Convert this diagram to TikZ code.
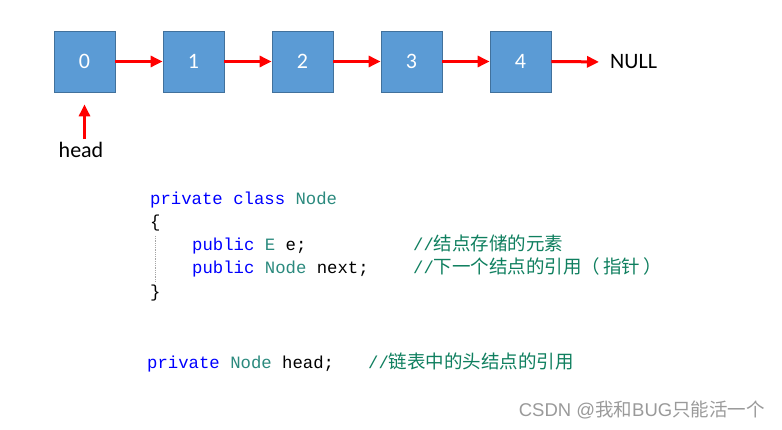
\documentclass[tikz,border=0pt]{standalone}
\usepackage{fontspec}
\setmainfont{Carlito}
\setmonofont{Liberation Mono}
\newfontfamily\cjk{Noto Sans CJK SC}
\newfontfamily\marksans{Liberation Sans}
\usepackage{xcolor}
\usetikzlibrary{arrows.meta,positioning,calc}

\definecolor{boxfill}{HTML}{5B9BD5}
\definecolor{boxline}{HTML}{41719C}
\definecolor{kwblue}{HTML}{0000FF}
\definecolor{typeteal}{HTML}{2B8A7E}
\definecolor{cmtgreen}{HTML}{0F7F5F}
\definecolor{markgray}{HTML}{9A9A9A}

\newcommand{\kw}[1]{\textcolor{kwblue}{#1}}
\newcommand{\ty}[1]{\textcolor{typeteal}{#1}}
\newcommand{\cmt}[1]{\textcolor{cmtgreen}{//{\cjk\fontsize{18.5}{20}\selectfont #1}}}

\tikzset{
  listnode/.style={draw=boxline,fill=boxfill,line width=0.8pt,minimum width=61pt,minimum height=61pt,inner sep=0pt,text=white,font=\fontsize{22}{24}\selectfont},
  ptr/.style={-{Triangle[length=12pt,width=11pt]},red,line width=3pt},
  codeline/.style={anchor=base west,inner sep=0pt,font=\ttfamily\fontsize{17.3}{20}\selectfont},
}

\begin{document}
\begin{tikzpicture}[x=1pt,y=-1pt,node distance=47.2pt]
\useasboundingbox[fill=white] (0,0) rectangle (782,430);
% linked list
\node[listnode] (n0) at (84.5,61.5) {0};
\node[listnode,right=of n0] (n1) {1};
\node[listnode,right=of n1] (n2) {2};
\node[listnode,right=of n2] (n3) {3};
\node[listnode,right=of n3] (n4) {4};
\node[anchor=west,inner sep=0pt,font=\fontsize{22}{24}\selectfont] (null) at (610,62) {NULL};
\foreach \a/\b in {n0/n1,n1/n2,n2/n3,n3/n4}
  \draw[ptr] (\a) -- (\b);
\draw[ptr,shorten >=11pt] (n4.east) -- (null.west);
\node[font=\fontsize{22}{24}\selectfont,inner sep=0pt] (head) at (81,150) {head};
\draw[ptr,shorten <=3pt,shorten >=12pt] (head.north -| n0) -- (n0.south);

% code
\node[codeline] (c1) at (150,205) {\kw{private} \kw{class} \ty{Node}};
\node[codeline] (c2) at (150,228) {\{};
\node[codeline] (c3) at (192,251) {\kw{public} \ty{E} e;};
\node[codeline] (c4) at (192,274) {\kw{public} \ty{Node} next;};
\node[codeline] (c5) at (150,298) {\}};
\node[codeline] (m3) at (413,251) {\cmt{结点存储的元素}};
\node[codeline] (m4) at (413,274) {\cmt{下一个结点的引用（\hspace{3pt}指针\hspace{3pt}）}};
\coordinate (g1) at (155,236);
\coordinate (g2) at (155,282);
\draw[gray!70,densely dotted,line width=0.8pt] (g1) -- (g2);

\node[codeline] (hd) at (147,369) {\kw{private} \ty{Node} head;};
\node[codeline] (mh) at (368,369) {\cmt{链表中的头结点的引用}};

% watermark
\node[anchor=east,inner sep=0pt,text=markgray,font=\marksans\fontsize{18.5}{20}\selectfont] (mark) at (765,410) {CSDN @{\cjk 我和}BUG{\cjk 只能活一个}};
\end{tikzpicture}
\end{document}
